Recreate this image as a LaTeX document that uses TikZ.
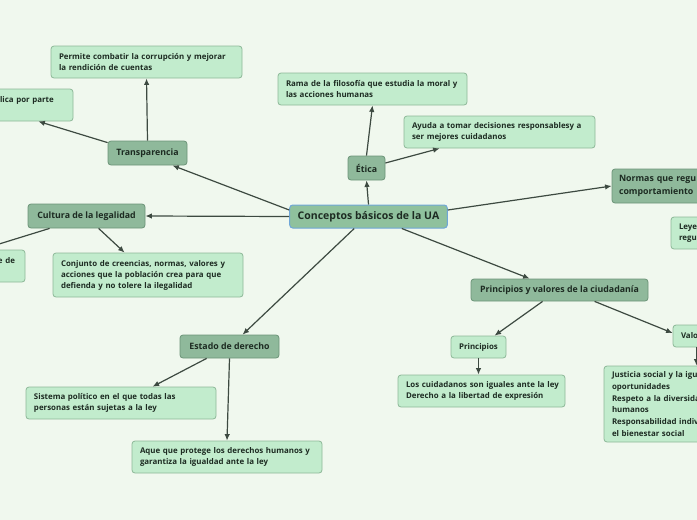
\documentclass[tikz,border=0pt]{standalone}
\usepackage{fontspec}
\setmainfont{Open Sans}
\usetikzlibrary{arrows.meta}
\definecolor{bg}{HTML}{F0F8EE}
\definecolor{leaff}{HTML}{C2ECCD}
\definecolor{leafd}{HTML}{8DB898}
\definecolor{mainf}{HTML}{8FB99B}
\definecolor{maind}{HTML}{6C9478}
\definecolor{rootf}{HTML}{8FC19D}
\definecolor{rootd}{HTML}{6FA6D8}
\definecolor{txt}{HTML}{1D2B22}
\definecolor{edge}{HTML}{3D4A41}
\begin{document}
\begin{tikzpicture}[x=1pt,y=-1pt,
  box/.style={rounded corners=3pt, line width=0.8pt, inner xsep=8pt, inner ysep=0pt, text=txt},
  leaf/.style={box, fill=leaff, draw=leafd, align=left, font=\bfseries\fontsize{7.9}{11}\selectfont},
  topic/.style={box, fill=mainf, draw=maind, align=center, inner xsep=7pt, font=\bfseries\fontsize{8.8}{13}\selectfont},
  root/.style={box, fill=rootf, draw=rootd, line width=1pt, font=\bfseries\fontsize{10.5}{12}\selectfont},
  link/.style={draw=edge, line width=1.2pt, -{Latex[length=6.5pt,width=5.5pt]}}]
\useasboundingbox (0,0) rectangle (697,520);
\fill[bg] (0,0) rectangle (697,520);
\clip (0,0) rectangle (697,520);

\node[root, minimum width=157pt, minimum height=23pt] (C) at (368.5,216.5) {Conceptos básicos de la UA};
\node[topic, minimum width=37pt, minimum height=24pt] (E) at (366.5,168) {Ética};
\node[leaf, text width=173pt, minimum height=32pt] (R) at (372.5,89) {Rama de la filosofía que estudia la moral y\\las acciones humanas};
\node[leaf, text width=175pt, minimum height=32pt] (A) at (499.5,132) {Ayuda a tomar decisiones responsablesy a\\ser mejores cuidadanos};
\node[topic, minimum width=79pt, minimum height=24pt] (T) at (147.5,153) {Transparencia};
\node[leaf, text width=175pt, minimum height=32pt] (P) at (146.5,62) {Permite combatir la corrupción y mejorar\\la rendición de cuentas};
\node[leaf, text width=87pt, minimum height=32pt] (L) at (21.5,105) {\hspace*{22pt}lica por parte\\\mbox{}};
\node[topic, minimum width=117pt, minimum height=24pt] (Cu) at (86.5,216) {Cultura de la legalidad};
\node[leaf, text width=72pt, minimum height=32pt] (D) at (-19,266) {\hspace*{53pt}e de\\\mbox{}};
\node[leaf, text width=174pt, minimum height=44pt] (Cj) at (148,275) {Conjunto de creencias, normas, valores y\\acciones que la población crea para que\\defienda y no tolere la ilegalidad};
\node[topic, align=left, text width=134pt, minimum height=34pt] (N) at (686,186) {Normas que regu\\comportamiento};
\node[leaf, text width=73pt, minimum height=32pt] (Ly) at (715.5,233) {Leye\\regu};
\node[topic, minimum width=177pt, minimum height=22pt] (PV) at (559.5,290) {Principios y valores de la ciudadanía};
\node[leaf, minimum width=55pt, minimum height=22pt] (Pr) at (478.5,347) {Principios};
\node[leaf, text width=151pt, minimum height=32pt] (Lo) at (481.5,391) {\mbox{Los cuidadanos son iguales ante la ley}\\\mbox{Derecho a la libertad de expresión}};
\node[leaf, text width=31pt, minimum height=22pt] (V) at (696.5,336) {Valo};
\node[leaf, text width=140pt, minimum height=76pt, font=\bfseries\fontsize{7.9}{11.8}\selectfont] (J) at (682,404) {Justicia social y la igua\\oportunidades\\Respeto a la diversida\\humanos\\Responsabilidad indiv\\el bienestar social};
\node[topic, minimum width=99pt, minimum height=23pt] (Es) at (229.5,346.5) {Estado de derecho};
\node[leaf, text width=174pt, minimum height=32pt] (S) at (121,403) {Sistema político en el que todas las\\personas están sujetas a la ley};
\node[leaf, text width=174pt, minimum height=32pt] (Aq) at (227,457) {Aque que protege los derechos humanos y\\garantiza la igualdad ante la ley};

\draw[link] (C.north) -- (E.south);
\draw[link] (E.north) -- (R.south);
\draw[link] ([yshift=5pt]E.east) -- ([xshift=36pt]A.south west);
\draw[link] ([yshift=6.5pt]C.west) -- ([xshift=-15pt]T.south east);
\draw[link] (T.north) -- (P.south);
\draw[link] ([yshift=-2pt]T.north west) -- ([xshift=-35pt]L.south east);
\draw[link] (C.west) -- (Cu.east);
\draw[link] ([xshift=22pt]Cu.south west) -- (D.north);
\draw[link] ([xshift=71pt]Cu.south west) -- ([xshift=72pt]Cj.north west);
\draw[link] ([yshift=6.5pt]C.east) -- (N.west);
\draw[link] ([xshift=-46pt]C.south east) -- ([xshift=59pt]PV.north west);
\draw[link] ([xshift=72pt]PV.south west) -- ([xshift=44pt]Pr.north west);
\draw[link] ([xshift=124pt]PV.south west) -- ([yshift=3pt]V.west);
\draw[link] (Pr.south) -- (Pr.south |- Lo.north);
\draw[link] (V.south) -- (V.south |- J.north);
\draw[link] ([xshift=65pt]C.south west) -- ([xshift=63pt]Es.north west);
\draw[link] ([xshift=27pt]Es.south west) -- ([xshift=127pt]S.north west);
\draw[link] (Es.south) -- (Aq.north);
\end{tikzpicture}
\end{document}
